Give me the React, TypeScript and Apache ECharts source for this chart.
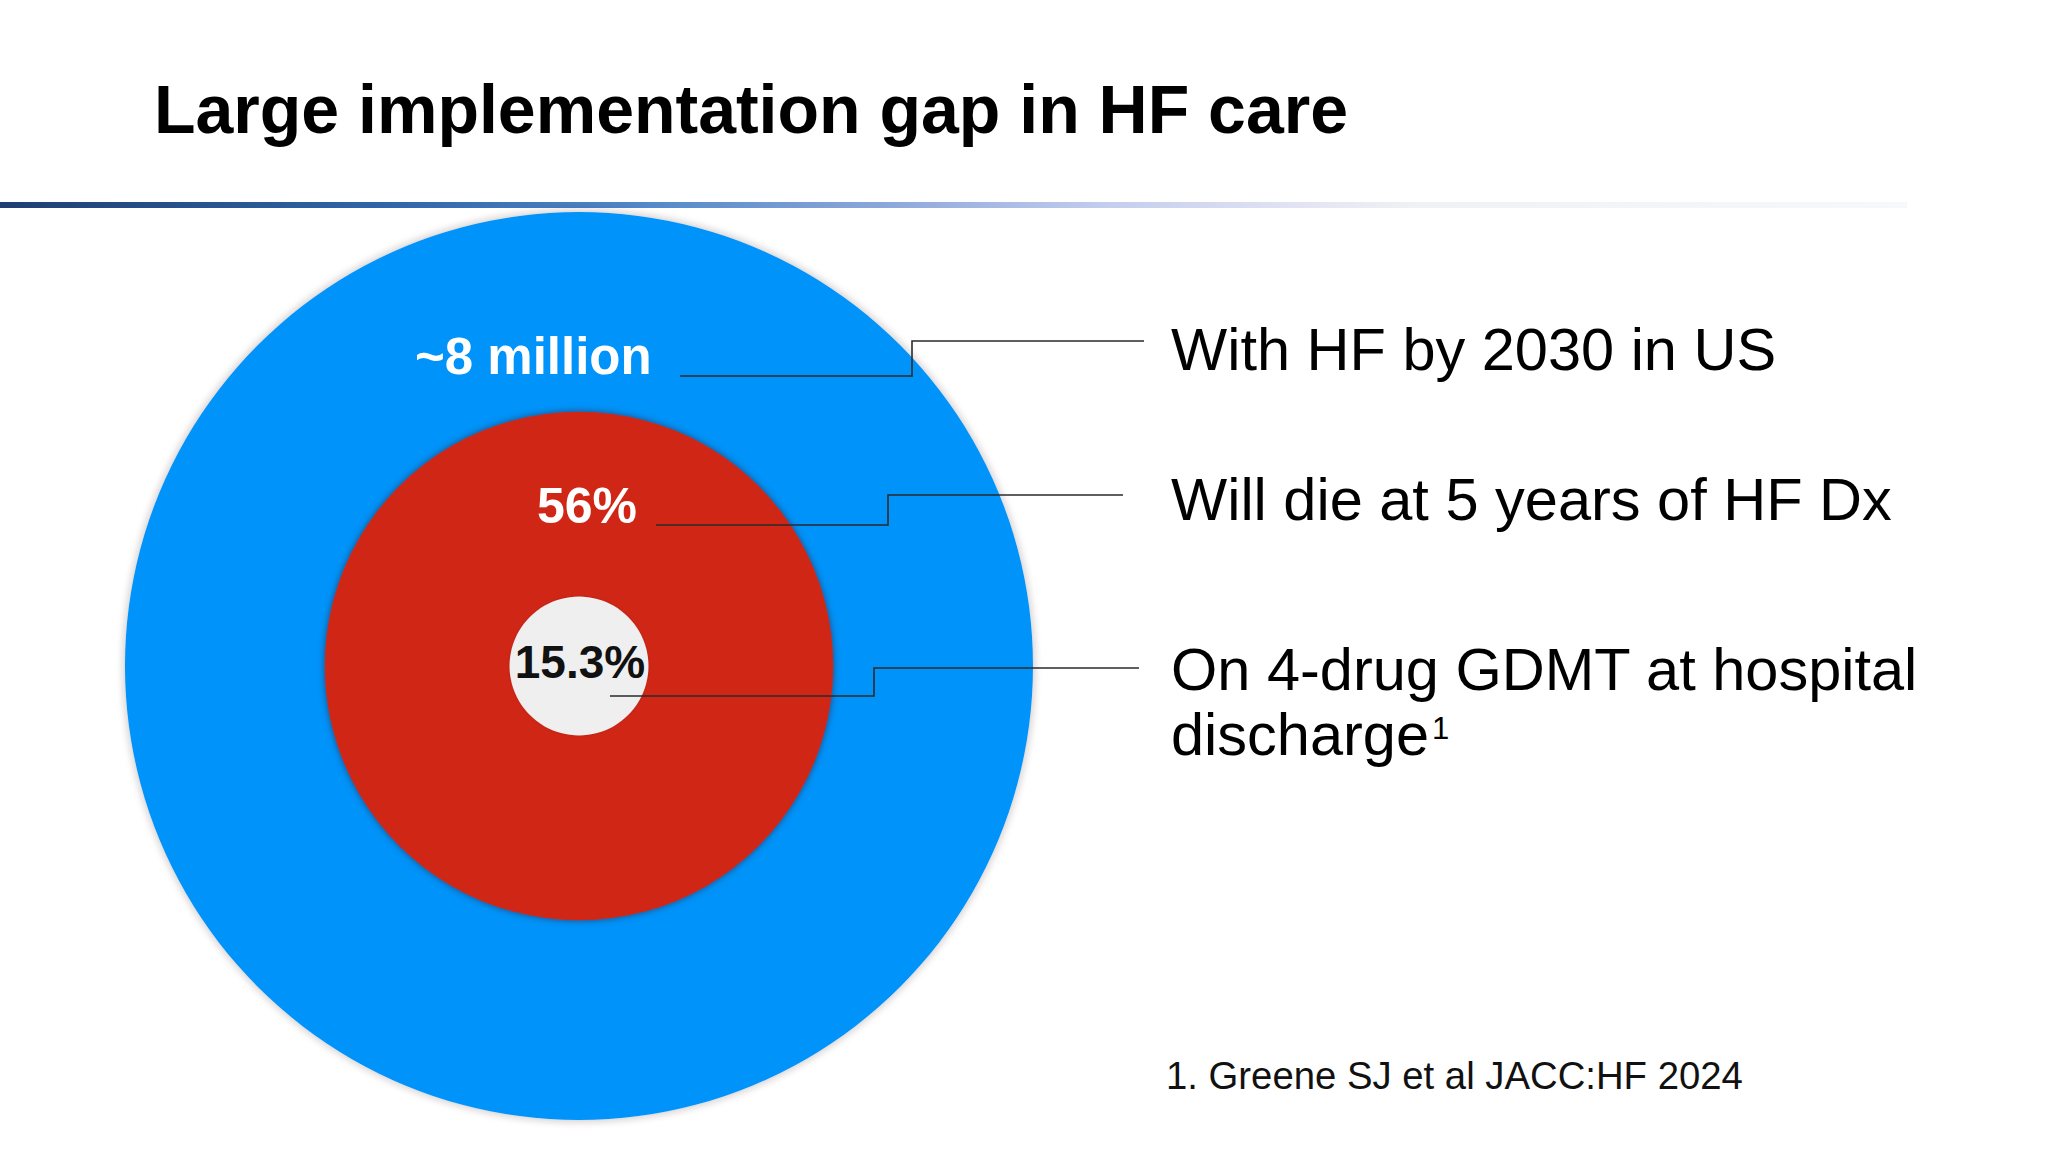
import React, { useEffect, useRef } from "react";
import * as echarts from "echarts";

// Concentric rings: each ring's radius is its share of the outer population.
const ringNames = [
  "With HF by 2030 in US",
  "Will die at 5 years of HF Dx",
  "On 4-drug GDMT at hospital discharge",
];
const ringShares = [1, 0.56, 0.153];
const ringLabels = ["~8 million", "56%", "15.3%"];
const ringColors = ["#0593fa", "#d02618", "#efefef"];

// Right-hand descriptions (the third wraps onto two lines)
const descLines = [
  ["With HF by 2030 in US"],
  ["Will die at 5 years of HF Dx"],
  ["On 4-drug GDMT at hospital", "discharge"],
];
const titleText = "Large implementation gap in HF care";
const footnoteText = "1. Greene SJ et al JACC:HF 2024";

const W = 2048;
const H = 1152;
const CX = 579;
const CY = 666;
const OUTER_R = 454;
const FONT = '"Liberation Sans", Arial, Helvetica, sans-serif';

// Layout of the in-ring labels, leader lines and descriptions
const ringLabelPos = [
  { x: 415, y: 356, size: 51, color: "#ffffff", align: "left" },
  { x: 537, y: 506, size: 50, color: "#ffffff", align: "left" },
  { x: 580, y: 662, size: 46, color: "#111111", align: "center" },
];
const leaderPaths = [
  [[680, 376], [912, 376], [912, 341], [1144, 341]],
  [[656, 525], [888, 525], [888, 495], [1123, 495]],
  [[610, 696], [874, 696], [874, 668], [1139, 668]],
];
const descBaselines = [[370], [520], [690, 755]];

export default function App() {
  const ref = useRef<HTMLDivElement>(null);

  useEffect(() => {
    if (!ref.current) return;
    const chart = echarts.init(ref.current, undefined, { renderer: "svg" });

    const series = ringShares.map((share, i) => ({
      type: "pie",
      name: ringNames[i],
      center: [CX, CY],
      radius: [0, OUTER_R * share],
      silent: true,
      z: 2 + i,
      startAngle: 90,
      label: { show: false },
      labelLine: { show: false },
      itemStyle: {
        color: ringColors[i],
        borderWidth: 0,
        shadowBlur: i === 0 ? 8 : i === 1 ? 7 : 3,
        shadowColor:
          i === 0 ? "rgba(60,40,40,0.35)" : i === 1 ? "rgba(70,10,0,0.55)" : "rgba(0,0,0,0.15)",
      },
      data: [{ value: share, name: ringNames[i] }],
    }));

    const graphics: any[] = [];

    // Header rule with fading gradient
    graphics.push({
      type: "rect",
      z: 1,
      shape: { x: 0, y: 202, width: 1907, height: 6 },
      style: {
        fill: new echarts.graphic.LinearGradient(0, 0, 1, 0, [
          { offset: 0, color: "#1f3f72" },
          { offset: 0.2, color: "#2f65a8" },
          { offset: 0.33, color: "#4f86c8" },
          { offset: 0.47, color: "#8fa9db" },
          { offset: 0.58, color: "#c3cdee" },
          { offset: 0.66, color: "#dcdff2" },
          { offset: 0.74, color: "#f0f1f4" },
          { offset: 1, color: "#f7f8f9" },
        ]),
      },
    });

    // Title
    graphics.push({
      type: "text",
      z: 10,
      x: 154,
      y: 109,
      style: {
        text: titleText,
        font: `bold 68px ${FONT}`,
        fill: "#000000",
        align: "left",
        verticalAlign: "middle",
        textAlign: "left",
        textVerticalAlign: "middle",
      },
    });

    // Labels inside the rings
    ringLabels.forEach((t, i) => {
      const p = ringLabelPos[i];
      graphics.push({
        type: "text",
        z: 20,
        x: p.x,
        y: p.y,
        style: {
          text: t,
          font: `bold ${p.size}px ${FONT}`,
          fill: p.color,
          align: p.align,
          verticalAlign: "middle",
          textAlign: p.align,
          textVerticalAlign: "middle",
        },
      });
    });

    // Elbow leader lines
    leaderPaths.forEach((pts) => {
      graphics.push({
        type: "polyline",
        z: 15,
        shape: { points: pts },
        style: { stroke: "#2b2b2b", lineWidth: 1.6, fill: null },
      });
    });

    // Descriptions on the right
    descLines.forEach((lines, i) => {
      lines.forEach((line, j) => {
        graphics.push({
          type: "text",
          z: 10,
          x: 1171,
          y: descBaselines[i][j] - 21,
          style: {
            text: line,
            font: `59.5px ${FONT}`,
            fill: "#000000",
            align: "left",
            verticalAlign: "middle",
            textAlign: "left",
            textVerticalAlign: "middle",
          },
        });
      });
    });

    // Superscript reference mark after "discharge"
    graphics.push({
      type: "text",
      z: 10,
      x: 1432,
      y: 728,
      style: {
        text: "1",
        font: `31px ${FONT}`,
        fill: "#000000",
        align: "left",
        verticalAlign: "middle",
        textAlign: "left",
        textVerticalAlign: "middle",
      },
    });

    // Footnote
    graphics.push({
      type: "text",
      z: 10,
      x: 1166,
      y: 1075,
      style: {
        text: footnoteText,
        font: `38.3px ${FONT}`,
        fill: "#111111",
        align: "left",
        verticalAlign: "middle",
        textAlign: "left",
        textVerticalAlign: "middle",
      },
    });

    chart.setOption({
      animation: false,
      backgroundColor: "#ffffff",
      series,
      graphic: graphics,
    });

    return () => chart.dispose();
  }, []);

  return (
    <div
      ref={ref}
      style={{ position: "fixed", left: 0, top: 0, width: W, height: H }}
    />
  );
}
